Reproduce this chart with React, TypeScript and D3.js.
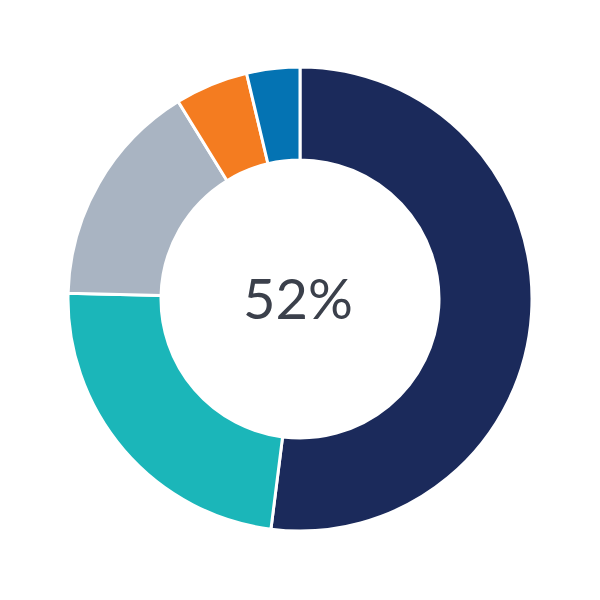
import React, { useRef, useEffect } from 'react';
import * as d3 from 'd3';

// slices clockwise from 12 o'clock
const labels = ['Navy', 'Teal', 'Gray', 'Orange', 'Blue'];
const values = [52, 23.4, 15.8, 5.1, 3.7];
const colors = ['#1b2a5b', '#1bb6b9', '#a9b4c2', '#f47c20', '#0473b3'];
const centerLabel = '52%';

function DonutChart() {
    const ref = useRef<SVGSVGElement>(null);

    useEffect(() => {
        const width = 600;
        const height = 600;
        const outerRadius = 232;
        const innerRadius = 139;

        const svg = d3.select(ref.current);
        svg.selectAll('*').remove();

        const g = svg
            .append('g')
            .attr('transform', 'translate(' + width / 2 + ',' + 299 + ')');

        const pie = d3
            .pie<number>()
            .sort(null)
            .value((d) => d);

        const arc = d3
            .arc<d3.PieArcDatum<number>>()
            .innerRadius(innerRadius)
            .outerRadius(outerRadius);

        const color = d3.scaleOrdinal<string, string>().domain(labels).range(colors);

        g.selectAll('path')
            .data(pie(values))
            .enter()
            .append('path')
            .attr('d', arc)
            .attr('fill', (d, i) => color(labels[i]))
            .attr('stroke', '#fff')
            .attr('stroke-width', 3);

        g.append('text')
            .attr('x', -2)
            .attr('y', 0)
            .attr('dy', '0.35em')
            .attr('text-anchor', 'middle')
            .attr('font-family', 'Lato, sans-serif')
            .attr('font-size', 56)
            .attr('fill', '#3b404b')
            .text(centerLabel);
    }, []);

    return <svg ref={ref} width={600} height={600} style={{ display: 'block' }} />;
}

export default function App() {
    return (
        <div style={{ margin: -8 }}>
            <DonutChart />
        </div>
    );
}
